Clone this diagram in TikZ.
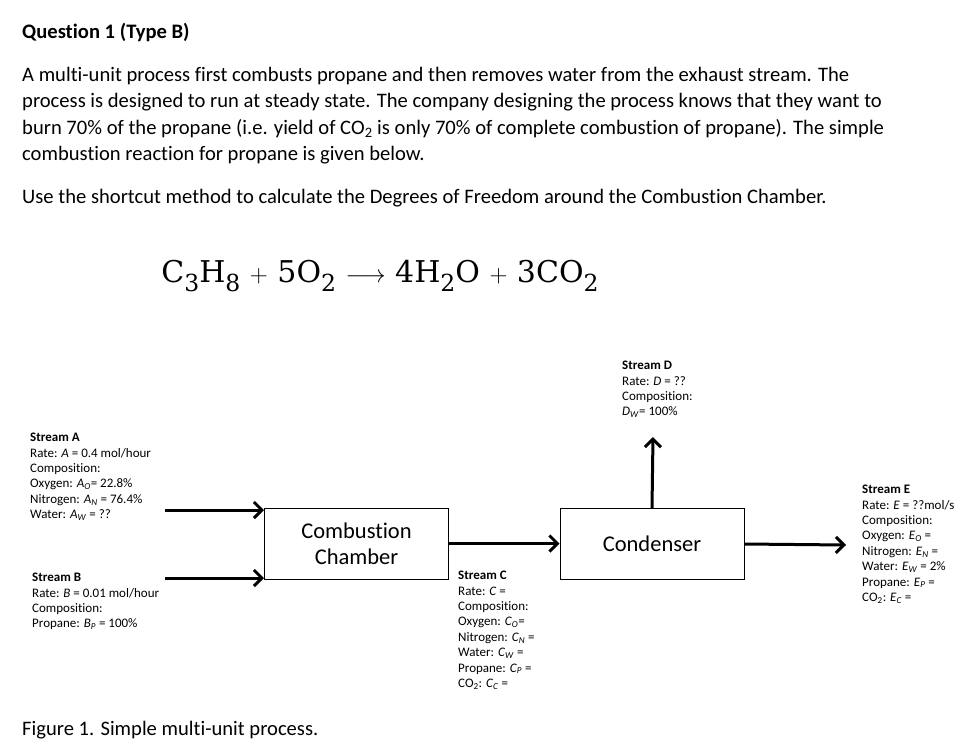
\documentclass[tikz,border=0pt]{standalone}
\usepackage{fontspec}
\setmainfont[Ligatures=NoCommon]{Carlito}
\newfontfamily\eqfont{DejaVu Serif}
\usetikzlibrary{arrows.meta}
\newcommand{\sbi}[1]{\textsubscript{\textit{#1}}}
\newcommand{\lsb}[1]{\raisebox{-0.28em}{\fontsize{23.5}{23.5}\selectfont #1}}
\begin{document}
\begin{tikzpicture}[x=1pt,y=-1pt,
  unitbox/.style={draw, line width=1pt, minimum width=184pt, minimum height=71pt, align=center, inner sep=0pt, font=\fontsize{22.5}{26}\selectfont},
  flow/.style={line width=3pt, -{Straight Barb[length=8pt,width=16pt]}},
  info/.style={anchor=north west, align=left, inner sep=0pt, font=\fontsize{13}{15.4}\selectfont},
  para/.style={anchor=base west, inner sep=0pt, font=\fontsize{20.6}{26}\selectfont}]
\path[use as bounding box] (0,0) rectangle (971,755);
\node[para, font=\fontsize{20.6}{22}\selectfont\bfseries] (title) at (22,38) {Question 1 (Type B)};
\node[para] (l1) at (22,81) {A multi-unit process first combusts propane and then removes water from the exhaust stream. The};
\node[para] (l2) at (22,107) {process is designed to run at steady state. The company designing the process knows that they want to};
\node[para] (l3) at (22,134) {burn 70\% of the propane (i.e. yield of CO\textsubscript{2} is only 70\% of complete combustion of propane). The simple};
\node[para] (l4) at (22,160) {combustion reaction for propane is given below.};
\node[para] (l5) at (22,203) {Use the shortcut method to calculate the Degrees of Freedom around the Combustion Chamber.};
\node[inner sep=0pt, font=\fontsize{30}{30}\selectfont\eqfont] (eq) at (380,276) {C\lsb{3}H\lsb{8} $+$ 5O\lsb{2} $\longrightarrow$ 4H\lsb{2}O $+$ 3CO\lsb{2}};
\node[unitbox] (ca) at (356.5,543.5) {Combustion\\Chamber};
\node[unitbox] (cd) at (652,544) {Condenser};
\coordinate (aS) at (165,510);
\coordinate (bS) at (165,578);
\coordinate (dE) at (653,437);
\coordinate (eE) at (846,545);
\draw[flow] (aS) -- (aS -| ca.west);
\draw[flow] (bS) -- (bS -| ca.west);
\draw[flow] (ca.east) -- (ca.east -| cd.west);
\draw[flow] (cd.north) -- (dE);
\draw[flow] (cd.east) -- (eE);
\node[info] (sa) at (30,433) {\textbf{Stream A}\\Rate: \textit{A} = 0.4 mol/hour\\Composition:\\Oxygen: \textit{A}\sbi{O}= 22.8\%\\Nitrogen: \textit{A}\sbi{N} = 76.4\%\\Water: \textit{A}\sbi{W} = ??};
\node[info] (sb) at (32,573) {\textbf{Stream B}\\Rate: \textit{B} = 0.01 mol/hour\\Composition:\\Propane: \textit{B}\sbi{P} = 100\%};
\node[info] (sc) at (458,571) {\textbf{Stream C}\\Rate: \textit{C} =\\Composition:\\Oxygen: \textit{C}\sbi{O}=\\Nitrogen: \textit{C}\sbi{N} =\\Water: \textit{C}\sbi{W} =\\Propane: \textit{C}\sbi{P} =\\CO\textsubscript{2}: \textit{C}\sbi{C} =};
\node[info] (sd) at (622,361) {\textbf{Stream D}\\Rate: \textit{D} = ??\\Composition:\\\textit{D}\sbi{W}= 100\%};
\node[info] (se) at (862,485) {\textbf{Stream E}\\Rate: \textit{E} = ??mol/s\\Composition:\\Oxygen: \textit{E}\sbi{O} =\\Nitrogen: \textit{E}\sbi{N} =\\Water: \textit{E}\sbi{W} = 2\%\\Propane: \textit{E}\sbi{P} =\\CO\textsubscript{2}: \textit{E}\sbi{C} =};
\node[para] (cap) at (22,735) {Figure 1. Simple multi-unit process.};
\end{tikzpicture}
\end{document}
